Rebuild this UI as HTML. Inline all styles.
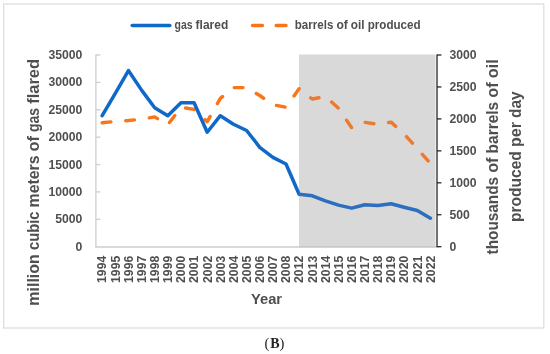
<!DOCTYPE html>
<html><head><meta charset="utf-8"><title>Figure B</title>
<style>
html,body{margin:0;padding:0;background:#fff;}
svg{display:block;}
text{font-family:"Liberation Sans",sans-serif;font-weight:bold;fill:#4f4f4f;}
.cap{font-family:"Liberation Serif",serif;font-weight:normal;fill:#222;}
</style></head><body>
<svg xmlns="http://www.w3.org/2000/svg" width="550" height="354" viewBox="0 0 550 354">
<rect x="0" y="0" width="550" height="354" fill="#fff"/>

<rect x="3.7" y="4.0" width="540.1" height="324.0" fill="#fff" stroke="#dedede" stroke-width="1.3"/>
<g stroke="#cecece" stroke-width="1.3" fill="none">
<line x1="95.90" y1="54.40" x2="95.90" y2="247.00"/>
<line x1="95.25" y1="247.00" x2="437.00" y2="247.00" stroke-width="1.5"/>
<line x1="95.90" y1="219.31" x2="100.40" y2="219.31"/>
<line x1="95.90" y1="191.93" x2="100.40" y2="191.93"/>
<line x1="95.90" y1="164.54" x2="100.40" y2="164.54"/>
<line x1="95.90" y1="137.16" x2="100.40" y2="137.16"/>
<line x1="95.90" y1="109.77" x2="100.40" y2="109.77"/>
<line x1="95.90" y1="82.39" x2="100.40" y2="82.39"/>
<line x1="95.90" y1="55.00" x2="100.40" y2="55.00"/>
</g>
<rect x="299.00" y="54.50" width="136.50" height="191.70" fill="#d9d9d9"/>
<rect x="299.00" y="246.10" width="136.50" height="1.20" fill="#c6c6c6"/>
<defs><clipPath id="cl"><rect x="0" y="0" width="299.00" height="354"/></clipPath><clipPath id="cr"><rect x="299.00" y="0" width="300" height="354"/></clipPath></defs>
<g clip-path="url(#cl)" fill="none" stroke-linejoin="round" stroke-linecap="round">
<path d="M102.17,122.76 L115.30,121.48 L128.43,120.52 L141.56,119.25 L154.69,116.89 L167.82,124.86 L180.95,107.32 L194.08,109.36 L207.21,121.67 L220.34,98.38 L233.47,87.60 L246.60,87.60 L259.73,95.51 L272.87,104.70 L286.00,107.32 L299.13,88.62 L312.26,99.02 L325.39,96.47 L338.52,108.27 L351.65,127.73 L364.78,122.31 L377.91,124.41 L391.04,122.12 L404.17,134.11 L417.30,148.59 L430.43,163.46" stroke="#fa7519" stroke-width="3.4" stroke-dasharray="8.8 14.9"/>
<path d="M102.17,115.70 L115.30,93.28 L128.43,70.59 L141.56,90.11 L154.69,107.72 L167.82,115.70 L180.95,102.69 L194.08,102.69 L207.21,132.27 L220.34,115.70 L233.47,124.29 L246.60,130.47 L259.73,147.31 L272.87,157.32 L286.00,163.99 L299.13,194.20 L312.26,195.82 L325.39,200.90 L338.52,205.11 L351.65,208.17 L364.78,204.73 L377.91,205.44 L391.04,203.80 L404.17,207.30 L417.30,210.53 L430.43,218.18" stroke="#0f69c8" stroke-width="3.5"/>
</g>
<g clip-path="url(#cr)" fill="none" stroke-linejoin="round" stroke-linecap="round">
<path d="M102.17,122.76 L115.30,121.48 L128.43,120.52 L141.56,119.25 L154.69,116.89 L167.82,124.86 L180.95,107.32 L194.08,109.36 L207.21,121.67 L220.34,98.38 L233.47,87.60 L246.60,87.60 L259.73,95.51 L272.87,104.70 L286.00,107.32 L299.13,88.62 L312.26,99.02 L325.39,96.47 L338.52,108.27 L351.65,127.73 L364.78,122.31 L377.91,124.41 L391.04,122.12 L404.17,134.11 L417.30,148.59 L430.43,163.46" stroke="#ec7a30" stroke-width="3.4" stroke-dasharray="8.8 14.9"/>
<path d="M102.17,115.70 L115.30,93.28 L128.43,70.59 L141.56,90.11 L154.69,107.72 L167.82,115.70 L180.95,102.69 L194.08,102.69 L207.21,132.27 L220.34,115.70 L233.47,124.29 L246.60,130.47 L259.73,147.31 L272.87,157.32 L286.00,163.99 L299.13,194.20 L312.26,195.82 L325.39,200.90 L338.52,205.11 L351.65,208.17 L364.78,204.73 L377.91,205.44 L391.04,203.80 L404.17,207.30 L417.30,210.53 L430.43,218.18" stroke="#2d6ebe" stroke-width="3.5"/>
</g>
<g stroke="#262626" stroke-width="1.3" fill="none">
<line x1="437.00" y1="54.50" x2="437.00" y2="247.20"/>
<line x1="437.00" y1="246.70" x2="441.40" y2="246.70"/>
<line x1="437.00" y1="214.75" x2="441.40" y2="214.75"/>
<line x1="437.00" y1="182.80" x2="441.40" y2="182.80"/>
<line x1="437.00" y1="150.85" x2="441.40" y2="150.85"/>
<line x1="437.00" y1="118.90" x2="441.40" y2="118.90"/>
<line x1="437.00" y1="86.95" x2="441.40" y2="86.95"/>
<line x1="437.00" y1="55.00" x2="441.40" y2="55.00"/>
</g>
<text x="82.3" y="250.70" font-size="12.2" text-anchor="end">0</text>
<text x="82.3" y="223.31" font-size="12.2" text-anchor="end">5000</text>
<text x="82.3" y="195.93" font-size="12.2" text-anchor="end">10000</text>
<text x="82.3" y="168.54" font-size="12.2" text-anchor="end">15000</text>
<text x="82.3" y="141.16" font-size="12.2" text-anchor="end">20000</text>
<text x="82.3" y="113.77" font-size="12.2" text-anchor="end">25000</text>
<text x="82.3" y="86.39" font-size="12.2" text-anchor="end">30000</text>
<text x="82.3" y="59.00" font-size="12.2" text-anchor="end">35000</text>
<text x="449.4" y="250.70" font-size="12.2">0</text>
<text x="449.4" y="218.75" font-size="12.2">500</text>
<text x="449.4" y="186.80" font-size="12.2">1000</text>
<text x="449.4" y="154.85" font-size="12.2">1500</text>
<text x="449.4" y="122.90" font-size="12.2">2000</text>
<text x="449.4" y="90.95" font-size="12.2">2500</text>
<text x="449.4" y="59.00" font-size="12.2">3000</text>
<text transform="translate(106.47,255.8) rotate(-90)" font-size="12.2" text-anchor="end">1994</text>
<text transform="translate(119.60,255.8) rotate(-90)" font-size="12.2" text-anchor="end">1995</text>
<text transform="translate(132.73,255.8) rotate(-90)" font-size="12.2" text-anchor="end">1996</text>
<text transform="translate(145.86,255.8) rotate(-90)" font-size="12.2" text-anchor="end">1997</text>
<text transform="translate(158.99,255.8) rotate(-90)" font-size="12.2" text-anchor="end">1998</text>
<text transform="translate(172.12,255.8) rotate(-90)" font-size="12.2" text-anchor="end">1999</text>
<text transform="translate(185.25,255.8) rotate(-90)" font-size="12.2" text-anchor="end">2000</text>
<text transform="translate(198.38,255.8) rotate(-90)" font-size="12.2" text-anchor="end">2001</text>
<text transform="translate(211.51,255.8) rotate(-90)" font-size="12.2" text-anchor="end">2002</text>
<text transform="translate(224.64,255.8) rotate(-90)" font-size="12.2" text-anchor="end">2003</text>
<text transform="translate(237.77,255.8) rotate(-90)" font-size="12.2" text-anchor="end">2004</text>
<text transform="translate(250.90,255.8) rotate(-90)" font-size="12.2" text-anchor="end">2005</text>
<text transform="translate(264.03,255.8) rotate(-90)" font-size="12.2" text-anchor="end">2006</text>
<text transform="translate(277.17,255.8) rotate(-90)" font-size="12.2" text-anchor="end">2007</text>
<text transform="translate(290.30,255.8) rotate(-90)" font-size="12.2" text-anchor="end">2008</text>
<text transform="translate(303.43,255.8) rotate(-90)" font-size="12.2" text-anchor="end">2012</text>
<text transform="translate(316.56,255.8) rotate(-90)" font-size="12.2" text-anchor="end">2013</text>
<text transform="translate(329.69,255.8) rotate(-90)" font-size="12.2" text-anchor="end">2014</text>
<text transform="translate(342.82,255.8) rotate(-90)" font-size="12.2" text-anchor="end">2015</text>
<text transform="translate(355.95,255.8) rotate(-90)" font-size="12.2" text-anchor="end">2016</text>
<text transform="translate(369.08,255.8) rotate(-90)" font-size="12.2" text-anchor="end">2017</text>
<text transform="translate(382.21,255.8) rotate(-90)" font-size="12.2" text-anchor="end">2018</text>
<text transform="translate(395.34,255.8) rotate(-90)" font-size="12.2" text-anchor="end">2019</text>
<text transform="translate(408.47,255.8) rotate(-90)" font-size="12.2" text-anchor="end">2020</text>
<text transform="translate(421.60,255.8) rotate(-90)" font-size="12.2" text-anchor="end">2021</text>
<text transform="translate(434.73,255.8) rotate(-90)" font-size="12.2" text-anchor="end">2022</text>
<text transform="translate(38.8,305.65) rotate(-90)" y="0.00" font-size="16.3"><tspan x="0.00" textLength="51.49" lengthAdjust="spacingAndGlyphs">million</tspan> <tspan x="55.55" textLength="38.67" lengthAdjust="spacingAndGlyphs">cubic</tspan> <tspan x="98.28" textLength="51.85" lengthAdjust="spacingAndGlyphs">meters</tspan> <tspan x="154.18" textLength="15.32" lengthAdjust="spacingAndGlyphs">of</tspan> <tspan x="173.56" textLength="24.21" lengthAdjust="spacingAndGlyphs">gas</tspan> <tspan x="201.83" textLength="44.83" lengthAdjust="spacingAndGlyphs">flared</tspan></text>
<text transform="translate(498.2,254.4) rotate(-90)" y="0.00" font-size="16.3"><tspan x="0.00" textLength="77.54" lengthAdjust="spacingAndGlyphs">thousands</tspan> <tspan x="81.60" textLength="15.32" lengthAdjust="spacingAndGlyphs">of</tspan> <tspan x="100.97" textLength="51.63" lengthAdjust="spacingAndGlyphs">barrels</tspan> <tspan x="156.66" textLength="15.32" lengthAdjust="spacingAndGlyphs">of</tspan> <tspan x="176.04" textLength="19.06" lengthAdjust="spacingAndGlyphs">oil</tspan></text>
<text transform="translate(520.5,222.0) rotate(-90)" y="0.00" font-size="16.3"><tspan x="0.00" textLength="70.85" lengthAdjust="spacingAndGlyphs">produced</tspan> <tspan x="74.91" textLength="25.04" lengthAdjust="spacingAndGlyphs">per</tspan> <tspan x="104.00" textLength="26.66" lengthAdjust="spacingAndGlyphs">day</tspan></text>
<text x="251" y="304" font-size="14.9" textLength="31.1" lengthAdjust="spacingAndGlyphs">Year</text>
<line x1="132.2" y1="25.5" x2="169.8" y2="25.5" stroke="#0f69c8" stroke-width="3.5" stroke-linecap="round"/>
<text y="29.30" font-size="12.2"><tspan x="174.50" textLength="18.08" lengthAdjust="spacingAndGlyphs">gas</tspan> <tspan x="195.61" textLength="32.59" lengthAdjust="spacingAndGlyphs">flared</tspan></text>
<line x1="252.6" y1="25.4" x2="292" y2="25.4" stroke="#fa7519" stroke-width="3.5" stroke-linecap="round" stroke-dasharray="9.8 13.8"/>
<text y="29.30" font-size="12.2"><tspan x="294.80" textLength="38.56" lengthAdjust="spacingAndGlyphs">barrels</tspan> <tspan x="336.39" textLength="11.44" lengthAdjust="spacingAndGlyphs">of</tspan> <tspan x="350.87" textLength="13.79" lengthAdjust="spacingAndGlyphs">oil</tspan> <tspan x="367.68" textLength="52.92" lengthAdjust="spacingAndGlyphs">produced</tspan></text>
<text class="cap" y="348.2" font-size="14.6"><tspan x="264.6">(</tspan><tspan x="270.2" font-weight="bold" font-size="14">B</tspan><tspan x="279.6">)</tspan></text>
</svg></body></html>
